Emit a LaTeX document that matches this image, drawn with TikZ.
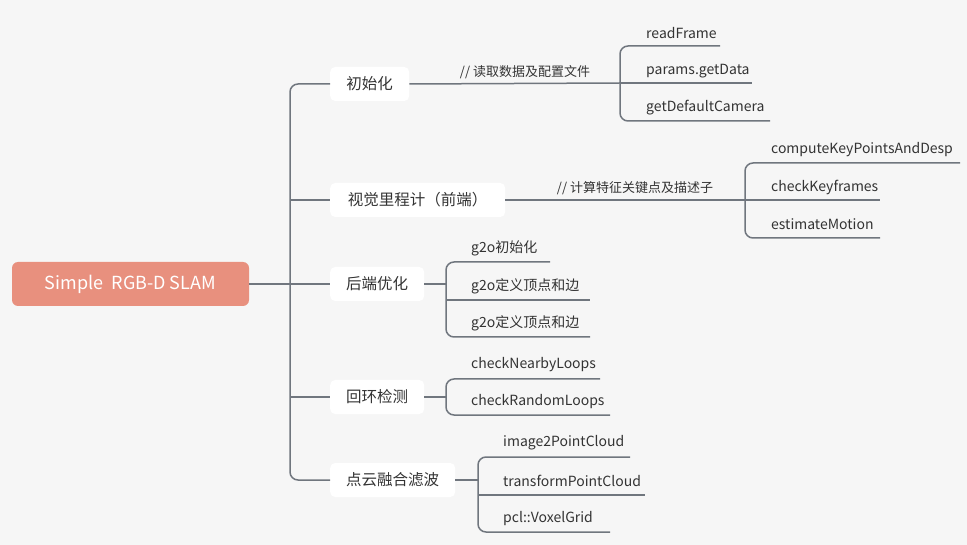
\documentclass[tikz,border=0pt]{standalone}
\usepackage{fontspec}
\setmainfont{Noto Sans CJK SC}
\begin{document}
\begin{tikzpicture}[x=1pt,y=-1pt,
  ln/.style={draw=lc,line width=1.5pt},
  br/.style={fill=white,rounded corners=5pt,minimum height=34pt,inner xsep=16pt,font=\fontsize{15.5}{18}\selectfont,text=tc,anchor=west},
  lf/.style={anchor=west,inner sep=0pt,font=\fontsize{14}{17}\selectfont,text=tc},
  lb/.style={font=\fontsize{13}{16}\selectfont,text=tc,inner sep=1pt}]
\definecolor{lc}{HTML}{70767E}
\definecolor{tc}{HTML}{333333}
\definecolor{rootc}{HTML}{E8907E}
\definecolor{bgc}{HTML}{F6F6F6}
\fill[bgc] (0,0) rectangle (967,545);
\useasboundingbox (0,0) rectangle (967,545);
\node[fill=rootc,rounded corners=6pt,minimum width=237pt,minimum height=44pt,text=white,font=\fontsize{18}{21}\selectfont] (root) at (130.5,284) {Simple\ \ RGB-D SLAM};
\node[br,minimum width=79pt] (b1) at (330,84) {初始化};
\node[br,minimum width=175pt] (b2) at (330,200) {视觉里程计（前端）};
\node[br,minimum width=94pt] (b3) at (330,284) {后端优化};
\node[br,minimum width=94pt] (b4) at (330,397) {回环检测};
\node[br,minimum width=110pt] (b5) at (330,480) {点云融合滤波};
\draw[ln,rounded corners=8pt] (b1.west) -- (290,84) -- (290,480) -- (b5.west);
\draw[ln] (root.east) -- (b3.west);
\draw[ln] (290,200) -- (b2.west);
\draw[ln] (290,397) -- (b4.west);
% branch 1
\coordinate (v1) at (620,83);
\draw[ln] (b1.east) -- (v1);
\node[lb,anchor=south] (lab1) at (525,80) {// 读取数据及配置文件};
\node[lf] (l11) at (646,33) {readFrame};
\node[lf] (l12) at (646,71) {params.getData};
\node[lf] (l13) at (646,108) {getDefaultCamera};
\draw[ln,rounded corners=8pt] (720,46) -- (620,46) -- (620,121) -- (770,121);
\draw[ln] (v1) -- (752,83);
% branch 2
\coordinate (v2) at (745,200);
\draw[ln] (b2.east) -- (v2);
\node[lb,anchor=south] (lab2) at (635,196) {// 计算特征关键点及描述子};
\node[lf] (l21) at (771,150) {computeKeyPointsAndDesp};
\node[lf] (l22) at (771,187) {checkKeyframes};
\node[lf] (l23) at (771,224) {estimateMotion};
\draw[ln,rounded corners=8pt] (960,163) -- (745,163) -- (745,238) -- (880,238);
\draw[ln] (v2) -- (880,200);
% branch 3
\coordinate (v3) at (446,284);
\draw[ln] (b3.east) -- (v3);
\node[lf] (l31) at (471,248) {g2o初始化};
\node[lf] (l32) at (471,286) {g2o定义顶点和边};
\node[lf] (l33) at (471,323) {g2o定义顶点和边};
\draw[ln,rounded corners=8pt] (550,262) -- (446,262) -- (446,337) -- (590,337);
\draw[ln] (446,300) -- (590,300);
% branch 4
\coordinate (v4) at (446,397);
\draw[ln] (b4.east) -- (v4);
\node[lf] (l41) at (471,365) {checkNearbyLoops};
\node[lf] (l42) at (471,402) {checkRandomLoops};
\draw[ln,rounded corners=8pt] (600,379) -- (446,379) -- (446,415) -- (610,415);
% branch 5
\coordinate (v5) at (478,480);
\draw[ln] (b5.east) -- (v5);
\node[lf] (l51) at (503,443) {image2PointCloud};
\node[lf] (l52) at (503,481) {transformPointCloud};
\node[lf] (l53) at (503,519) {pcl::VoxelGrid};
\draw[ln,rounded corners=8pt] (630,457) -- (478,457) -- (478,532) -- (610,532);
\draw[ln] (478,495) -- (645,495);
\end{tikzpicture}
\end{document}
